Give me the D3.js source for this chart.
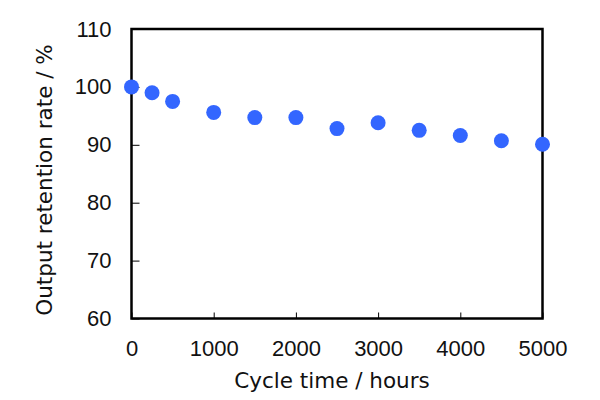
<!DOCTYPE html>
<html><head><meta charset="utf-8">
<script src="https://cdn.jsdelivr.net/npm/d3@7"></script>
<style>body{margin:0;background:#fff}</style>
</head><body>
<script>
const hours = [0, 250, 500, 1000, 1500, 2000, 2500, 3000, 3500, 4000, 4500, 5000];
const retention = [100, 99.0, 97.5, 95.6, 94.7, 94.7, 92.8, 93.8, 92.5, 91.6, 90.7, 90.1];
const xTicks = [0, 1000, 2000, 3000, 4000, 5000];
const yTicks = [60, 70, 80, 90, 100, 110];

const W = 600, H = 400;
const m = {left: 131.5, right: 57.5, top: 29, bottom: 81.5};
const tickFont = "'Liberation Sans', Arial, sans-serif";
const titleFont = "'DejaVu Sans', sans-serif";
const svg = d3.select("body").append("svg").attr("width", W).attr("height", H);
const x = d3.scaleLinear().domain([0, 5000]).range([m.left, W - m.right]);
const y = d3.scaleLinear().domain([60, 110]).range([H - m.bottom, m.top]);

const xa = svg.append("g").attr("transform", `translate(0,${H - m.bottom})`)
  .call(d3.axisBottom(x).tickValues(xTicks).tickFormat(d3.format("d")).tickSizeInner(-6).tickSizeOuter(0).tickPadding(22));
const ya = svg.append("g").attr("transform", `translate(${m.left},0)`)
  .call(d3.axisLeft(y).tickValues(yTicks).tickFormat(d3.format("d")).tickSizeInner(-8).tickSizeOuter(0).tickPadding(20));
[xa, ya].forEach(a => {
  a.select(".domain").remove();
  a.selectAll("line").attr("stroke", "#000").attr("stroke-width", 1);
  a.selectAll("text").attr("font-family", tickFont).attr("font-size", 22).attr("fill", "#111");
});

svg.append("rect").attr("x", m.left).attr("y", m.top)
  .attr("width", W - m.left - m.right).attr("height", H - m.top - m.bottom)
  .attr("fill", "none").attr("stroke", "#000").attr("stroke-width", 2.5);

svg.append("g").selectAll("circle").data(hours).join("circle")
  .attr("cx", (d) => x(d)).attr("cy", (d, i) => y(retention[i])).attr("r", 7.5)
  .attr("fill", "#3366ff");

svg.append("text").attr("x", 332).attr("y", 388).attr("text-anchor", "middle")
  .attr("font-family", titleFont).attr("font-size", 21.5).attr("fill", "#111")
  .text("Cycle time / hours");
svg.append("text").attr("transform", "translate(52,180) rotate(-90)").attr("text-anchor", "middle")
  .attr("font-family", titleFont).attr("font-size", 21.5).attr("fill", "#111")
  .text("Output retention rate / %");
</script>
</body></html>
